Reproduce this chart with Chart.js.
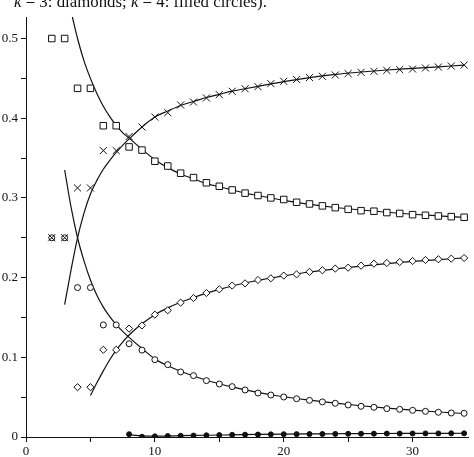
<!DOCTYPE html>
<html>
<head>
<meta charset="utf-8">
<script src="https://cdn.jsdelivr.net/npm/chart.js@4"></script>
<style>
  html, body { margin: 0; padding: 0; background: #fff; }
  #wrap { width: 474px; height: 457px; position: relative; }
</style>
</head>
<body>
<div id="wrap"><canvas id="c"></canvas></div>
<script>
// marker positions (n) and values
const nAll = [2,3,4,5,6,7,8,9,10,11,12,13,14,15,16,17,18,19,20,21,22,23,24,25,26,27,28,29,30,31,32,33,34];
const squares = [0.5,0.5,0.4375,0.4375,0.3906,0.3906,0.364,0.360,0.346,0.340,0.331,0.3255,0.319,0.3146,0.310,0.306,0.303,0.300,0.298,0.2945,0.2924,0.290,0.2878,0.2857,0.284,0.2833,0.2816,0.2805,0.279,0.2782,0.2773,0.2765,0.2757];
const crosses = [0.25,0.25,0.3125,0.3125,0.3594,0.3594,0.377,0.389,0.4015,0.407,0.4166,0.4203,0.4254,0.4296,0.4338,0.437,0.4396,0.4434,0.4463,0.4486,0.451,0.4526,0.4542,0.456,0.4576,0.4589,0.460,0.461,0.4617,0.463,0.4642,0.4655,0.4667];
const circles = [0.25,0.25,0.1875,0.1875,0.1406,0.1406,0.117,0.109,0.097,0.0908,0.0816,0.077,0.0707,0.0665,0.0632,0.059,0.0552,0.0527,0.0502,0.048,0.046,0.044,0.0423,0.0402,0.0385,0.0373,0.0356,0.0347,0.0335,0.0322,0.031,0.0301,0.0297];
const nDia = [4,5,6,7,8,9,10,11,12,13,14,15,16,17,18,19,20,21,22,23,24,25,26,27,28,29,30,31,32,33,34];
const diamonds = [0.0625,0.0625,0.1094,0.1094,0.136,0.140,0.1535,0.159,0.1686,0.1744,0.1807,0.1853,0.19,0.1928,0.197,0.1991,0.2025,0.2041,0.2072,0.2092,0.2113,0.2125,0.215,0.2175,0.2183,0.2196,0.2208,0.2221,0.223,0.2238,0.2246];
const nFill = [8,9,10,11,12,13,14,15,16,17,18,19,20,21,22,23,24,25,26,27,28,29,30,31,32,33,34];
const filled = [0.0035,0.0003,0.0008,0.0012,0.0015,0.0018,0.0021,0.0024,0.0027,0.0029,0.0031,0.0033,0.0035,0.0036,0.0037,0.0038,0.0039,0.004,0.0041,0.0042,0.0043,0.0043,0.0044,0.0045,0.0045,0.0046,0.0046];

// fitted curves (solid lines)
const sqCurveX = [3.6,4,4.5,5,5.5,6,6.5,7,7.5,8,9,10,11,12,13,14,15,16,17,18,19,20,22,24,26,28,30,32,34];
const sqCurveY = [0.527,0.50,0.472,0.450,0.431,0.415,0.402,0.391,0.382,0.375,0.361,0.348,0.338,0.330,0.324,0.318,0.314,0.310,0.306,0.303,0.300,0.297,0.292,0.288,0.2848,0.282,0.2795,0.2775,0.2757];
const lowCurveX = [3,3.5,4,4.5,5,5.5,6,6.5,7,7.5,8,9,10,11,12,13,14,15,16,17,18,19,20,22,24,26,28,30,32,34];
const crCurveY = [0.166,0.21,0.25,0.281,0.305,0.322,0.336,0.347,0.357,0.366,0.374,0.389,0.4015,0.409,0.416,0.421,0.426,0.430,0.434,0.437,0.440,0.443,0.446,0.451,0.455,0.458,0.4605,0.4625,0.4645,0.4665];
const ciCurveY = [0.335,0.288,0.25,0.221,0.197,0.178,0.163,0.151,0.141,0.1325,0.125,0.111,0.098,0.0895,0.0825,0.0765,0.0712,0.0668,0.0628,0.0592,0.056,0.053,0.0505,0.0462,0.0425,0.0392,0.0363,0.0337,0.0314,0.0295];
const diCurveX = [5,5.5,6,6.5,7,7.5,8,9,10,11,12,13,14,15,16,17,18,19,20,22,24,26,28,30,32,34];
const diCurveY = [0.052,0.068,0.083,0.097,0.109,0.119,0.128,0.142,0.1535,0.162,0.169,0.175,0.1805,0.1853,0.1895,0.1932,0.1965,0.1995,0.2022,0.207,0.211,0.2145,0.2175,0.2203,0.2226,0.2247];
const fiCurveX = [8,9,10,12,14,16,18,20,22,24,26,28,30,32,34];
const fiCurveY = [0.003,0.0015,0.0012,0.0016,0.0022,0.0027,0.0032,0.0036,0.0039,0.0041,0.0043,0.0044,0.0045,0.0046,0.0047];

const xTicks = [0, 10, 20, 30];
const yTicks = [0, 0.1, 0.2, 0.3, 0.4, 0.5];

const pts = (xs, ys) => xs.map((x, i) => ({ x: x, y: ys[i] }));
const ink = '#111';

function curve(xs, ys) {
  return {
    type: 'line', data: pts(xs, ys), borderColor: ink, borderWidth: 1.2,
    pointRadius: 0, cubicInterpolationMode: 'monotone', fill: false, order: 2
  };
}
function marks(xs, ys, style, r, bg) {
  return {
    type: 'scatter', data: pts(xs, ys), pointStyle: style, pointRadius: r,
    pointBorderColor: ink, pointBackgroundColor: bg || '#fff', pointBorderWidth: 1,
    showLine: false, order: 1
  };
}

// caption line partly cut at the top
const caption = {
  id: 'caption',
  afterDraw(chart) {
    const ctx = chart.ctx;
    const parts = [['k', true], [' = 3: diamonds; ', false], ['k', true], [' = 4: filled circles).', false]];
    ctx.save();
    let size = 15;
    const fnt = (it, s) => (it ? 'italic ' : '') + s + 'px "Liberation Serif", "DejaVu Serif", serif';
    let w = 0;
    parts.forEach(p => { ctx.font = fnt(p[1], size); w += ctx.measureText(p[0]).width; });
    size = size * 253 / w;
    let x = 14;
    ctx.fillStyle = ink;
    ctx.textBaseline = 'alphabetic';
    parts.forEach(p => {
      ctx.font = fnt(p[1], size);
      ctx.fillText(p[0], x, 6.5);
      x += ctx.measureText(p[0]).width;
    });
    ctx.restore();
  }
};

const tickFont = { family: '"Liberation Serif", "DejaVu Serif", serif', size: 13 };

new Chart(document.getElementById('c'), {
  type: 'scatter',
  data: {
    datasets: [
      curve(sqCurveX, sqCurveY),
      curve(lowCurveX, crCurveY),
      curve(lowCurveX, ciCurveY),
      curve(diCurveX, diCurveY),
      curve(fiCurveX, fiCurveY),
      marks(nAll, squares, 'rect', 4.6),
      marks(nAll, crosses, 'crossRot', 5),
      marks(nAll, circles, 'circle', 3),
      marks(nDia, diamonds, 'rectRot', 3.6),
      marks(nFill, filled, 'circle', 2.5, ink)
    ]
  },
  options: {
    responsive: true,
    maintainAspectRatio: false,
    animation: false,
    layout: { padding: { top: 17, left: 0, right: 0, bottom: 0 } },
    plugins: { legend: { display: false }, tooltip: { enabled: false } },
    scales: {
      x: {
        type: 'linear', min: 0, max: 34.3,
        afterBuildTicks(scale) {
          const t = [];
          for (let v = 0; v <= 34.3; v += 5) t.push({ value: v });
          scale.ticks = t;
        },
        afterFit(scale) { scale.height = 20; },
        grid: { display: true, drawOnChartArea: false, tickLength: 5, color: ink, tickColor: ink, tickWidth: 1 },
        border: { display: true, color: ink, width: 1 },
        ticks: {
          color: ink, font: tickFont, padding: 2, maxRotation: 0, autoSkip: false,
          callback: v => (xTicks.includes(v) ? String(v) : '')
        }
      },
      y: {
        type: 'linear', min: 0, max: 0.527,
        afterBuildTicks(scale) {
          const t = [];
          for (let i = 0; i <= 10; i++) t.push({ value: i * 0.05 });
          scale.ticks = t;
        },
        afterFit(scale) { scale.width = 26; },
        grid: { display: true, drawOnChartArea: false, tickLength: 5, color: ink, tickColor: ink, tickWidth: 1 },
        border: { display: true, color: ink, width: 1 },
        ticks: {
          color: ink, font: tickFont, padding: 3, autoSkip: false,
          callback: v => {
            const r = Math.round(v * 10) / 10;
            return Math.abs(v - r) < 1e-6 && yTicks.includes(r) ? String(r) : '';
          }
        }
      }
    }
  },
  plugins: [caption]
});
</script>
</body>
</html>
